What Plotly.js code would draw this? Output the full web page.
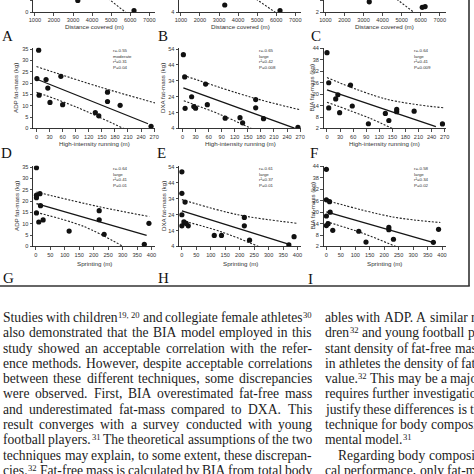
<!DOCTYPE html>
<html><head><meta charset="utf-8">
<script src="https://cdn.plot.ly/plotly-3.0.1.min.js"></script>
<style>html,body{margin:0;padding:0;background:#fff;overflow:hidden}#chart{width:474px;height:474px}</style>
</head><body><div id="chart"></div>
<script>
// ---------- data ----------
// top row (partially visible): distance covered
const distAdpX = [3250, 6200];
const distAdpY = [5.2, 0.7];
const distAdpLowX = [4850, 5760];
const distAdpLowY = [6.0, 0.0];
const distDxaX = [3300, 6200];
const distDxaY = [8.6, 5.0];
const distDxaLowX = [4950, 5950];
const distDxaLowY = [12.3, 4.0];
const distBiaX = [3300, 6080, 6230];
const distBiaY = [7.5, 4.6, 5.0];
const distBiaLowX = [4750, 5640];
const distBiaLowY = [8.8, 2.0];

// high-intensity running
const hirAdpX = [5, 1, 6, 22, 26, 31, 56, 60, 135, 143, 163, 163, 192, 263];
const hirAdpY = [34.5, 22, 14.7, 21.6, 17.8, 11.5, 23, 10.5, 7, 5.6, 16, 11.9, 10.2, 1];
const hirAdpFitX = [1, 256];
const hirAdpFitY = [21.7, 2.1];
const hirAdpUpX = [0, 145, 272];
const hirAdpUpY = [27.3, 18.3, 11.3];
const hirAdpLoX = [0, 92, 200];
const hirAdpLoY = [16.0, 9.4, 0];

const hirDxaX = [2, 5, 6, 21, 26, 30, 53, 57, 98, 132, 138, 168, 168, 186, 265];
const hirDxaY = [50.5, 36.5, 16.7, 24, 17.8, 16.8, 32, 19, 10.5, 10.8, 7.6, 22.2, 17, 10.2, 4.8];
const hirDxaFitX = [2, 257];
const hirDxaFitY = [29.6, 4.3];
const hirDxaUpX = [2, 156, 268];
const hirDxaUpY = [37.5, 23.8, 15.9];
const hirDxaLoX = [3, 85, 158];
const hirDxaLoY = [21.5, 13, 4];

const hirBiaX = [0, 4, 4, 20, 25, 29, 54, 58, 95, 134, 142, 160, 160, 200, 265];
const hirBiaY = [41.8, 26, 12.8, 17.5, 19.7, 10.3, 24.8, 13.8, 4.5, 9.9, 6.2, 12, 10.8, 11.1, 4.4];
const hirBiaFitX = [0, 250];
const hirBiaFitY = [22.3, 3];
const hirBiaUpX = [0, 135, 270];
const hirBiaUpY = [28.7, 17.5, 12.8];
const hirBiaLoX = [0, 97, 150];
const hirBiaLoY = [15.8, 7.5, 2];

// sprinting
const sprAdpX = [2, 2, 2, 14, 16, 2, 10, 25, 115, 219, 219, 236, 375, 391];
const sprAdpY = [34.7, 22.6, 21.5, 23.3, 18, 14.8, 10.8, 11.7, 6.8, 15.8, 11.8, 5.4, 1, 10.2];
const sprAdpFitX = [2, 383];
const sprAdpFitY = [18.9, 4.9];
const sprAdpUpX = [2, 220, 392];
const sprAdpUpY = [24, 17.5, 13.2];
const sprAdpLoX = [2, 164, 302];
const sprAdpLoY = [15, 8.9, 0];

const sprDxaX = [0, 0, 0, 0, 7, 15, 22, 11, 112, 137, 216, 216, 234, 370, 388];
const sprDxaY = [51, 37.5, 24, 17, 19.5, 18.5, 17, 32, 11, 11, 22.3, 17, 8, 5, 10.2];
const sprDxaFitX = [0, 377];
const sprDxaFitY = [26.5, 5];
const sprDxaUpX = [0, 194, 400];
const sprDxaUpY = [33.5, 24, 18.6];
const sprDxaLoX = [0, 137, 265];
const sprDxaLoY = [20.3, 13.2, 4];

const sprBiaX = [0, 0, 0, 0, 6, 11, 13, 22, 112, 137, 216, 216, 232, 370, 388];
const sprBiaY = [42.5, 26.5, 18, 13, 14, 25.5, 20, 10.5, 10, 4.3, 12, 10.8, 5.8, 4.2, 11];
const sprBiaFitX = [0, 365];
const sprBiaFitY = [20.2, 4.3];
const sprBiaUpX = [0, 226, 394];
const sprBiaUpY = [26.2, 17.6, 14.6];
const sprBiaLoX = [0, 125, 240];
const sprBiaLoY = [15, 9, 2];

// statistics boxes
const statsA = ['r=-0.55', 'moderate', 'r²=0.31', 'P=0.04'];
const statsB = ['r=-0.65', 'large', 'r²=0.42', 'P=0.008'];
const statsC = ['r=-0.64', 'large', 'r²=0.41', 'P=0.009'];
const statsD = ['r=-0.64', 'large', 'r²=0.41', 'P=0.01'];
const statsE = ['r=-0.61', 'large', 'r²=0.37', 'P=0.01'];
const statsF = ['r=-0.58', 'large', 'r²=0.34', 'P=0.02'];

const panelLetters = ['A', 'B', 'C', 'D', 'E', 'F', 'G', 'H', 'I'];
const yTitles = ['ADP fat-mass (kg)', 'DXA fat-mass (kg)', 'BIA fat-mass (kg)'];
const xTitles = ['Distance covered (m)', 'High-intensity running (m)', 'Sprinting (m)'];

const leftLines = [
  'Studies with children^19, 20^ and collegiate female athletes^30^',
  'also demonstrated that the BIA model employed in this',
  'study showed an acceptable correlation with the refer-',
  'ence methods. However, despite acceptable correlations',
  'between these different techniques, some discrepancies',
  'were observed. First, BIA overestimated fat-free mass',
  'and underestimated fat-mass compared to DXA. This',
  'result converges with a survey conducted with young',
  'football players.^31^ The theoretical assumptions of the two',
  'techniques may explain, to some extent, these discrepan-',
  'cies.^32^ Fat-free mass is calculated by BIA from total body'
];
const rightLines = [
  'ables with ADP. A similar result',
  'dren^32^ and young football players',
  'stant density of fat-free mass',
  'in athletes the density of fat-free',
  'value.^32^ This may be a major',
  'requires further investigation.',
  'justify these differences is the',
  'technique for body composition',
  'mental model.^31^',
  '    Regarding body composition',
  'cal performance, only fat-mass'
];

// ---------- geometry (pixels) ----------
const W = 474, H = 474;
const px = v => v / W;
const py = v => 1 - v / H;
const cols = [[33, 155], [179, 301], [323.5, 445.5]];
const rows = [[0, 12.3], [47.5, 128.5], [165.5, 246.5]];

const SANS = 'Liberation Sans, Arial, sans-serif';
const SERIF = 'Liberation Serif, Times New Roman, serif';

const traces = [];
const layout = {
  width: W, height: H,
  margin: {l: 0, r: 0, t: 0, b: 0},
  paper_bgcolor: '#fff', plot_bgcolor: 'rgba(0,0,0,0)',
  showlegend: false,
  annotations: [], shapes: []
};

function axisStyle(extra) {
  return Object.assign({
    showline: true, linecolor: '#1e1e1e', linewidth: 0.9,
    ticks: 'outside', ticklen: 2.5, tickwidth: 0.8, tickcolor: '#1e1e1e',
    showgrid: false, zeroline: false, tickangle: 0, fixedrange: true,
    tickfont: {family: SANS, size: 5.6, color: '#333'}
  }, extra);
}

const xSpecs = [
  {range: [900, 7300], tick0: 1000, dtick: 1000},
  {range: [-8, 272], tick0: 0, dtick: 30},
  {range: [-10, 412], tick0: 0, dtick: 50}
];
const ySpecs = [
  [{range: [0, 5.42], tick0: 0, dtick: 5}, {range: [4, 11.75], tick0: 4, dtick: 10}, {range: [2, 8.45], tick0: 2, dtick: 6}],
  [{range: [0, 35.7], tick0: 0, dtick: 5}, {range: [4, 55], tick0: 4, dtick: 10}, {range: [2, 44.5], tick0: 2, dtick: 6}],
  [{range: [0, 35.7], tick0: 0, dtick: 5}, {range: [4, 55], tick0: 4, dtick: 10}, {range: [2, 44.5], tick0: 2, dtick: 6}]
];

const panelData = [
  [ {x: distAdpX, y: distAdpY, lo: [distAdpLowX, distAdpLowY]},
    {x: distDxaX, y: distDxaY, lo: [distDxaLowX, distDxaLowY]},
    {x: distBiaX, y: distBiaY, lo: [distBiaLowX, distBiaLowY]} ],
  [ {x: hirAdpX, y: hirAdpY, fit: [hirAdpFitX, hirAdpFitY], up: [hirAdpUpX, hirAdpUpY], lo: [hirAdpLoX, hirAdpLoY], stats: statsA},
    {x: hirDxaX, y: hirDxaY, fit: [hirDxaFitX, hirDxaFitY], up: [hirDxaUpX, hirDxaUpY], lo: [hirDxaLoX, hirDxaLoY], stats: statsB},
    {x: hirBiaX, y: hirBiaY, fit: [hirBiaFitX, hirBiaFitY], up: [hirBiaUpX, hirBiaUpY], lo: [hirBiaLoX, hirBiaLoY], stats: statsC} ],
  [ {x: sprAdpX, y: sprAdpY, fit: [sprAdpFitX, sprAdpFitY], up: [sprAdpUpX, sprAdpUpY], lo: [sprAdpLoX, sprAdpLoY], stats: statsD},
    {x: sprDxaX, y: sprDxaY, fit: [sprDxaFitX, sprDxaFitY], up: [sprDxaUpX, sprDxaUpY], lo: [sprDxaLoX, sprDxaLoY], stats: statsE},
    {x: sprBiaX, y: sprBiaY, fit: [sprBiaFitX, sprBiaFitY], up: [sprBiaUpX, sprBiaUpY], lo: [sprBiaLoX, sprBiaLoY], stats: statsF} ]
];

const dotLine = {color: '#222', width: 1.1, dash: '2px,1.6px', shape: 'spline'};

for (let r = 0; r < 3; r++) {
  for (let c = 0; c < 3; c++) {
    const k = r * 3 + c + 1;
    const xid = k === 1 ? 'x' : 'x' + k;
    const yid = k === 1 ? 'y' : 'y' + k;
    const xa = k === 1 ? 'xaxis' : 'xaxis' + k;
    const ya = k === 1 ? 'yaxis' : 'yaxis' + k;
    const [x0, x1] = cols[c];
    const [t, b] = rows[r];
    layout[xa] = axisStyle(Object.assign({domain: [px(x0), px(x1)], anchor: yid}, xSpecs[r]));
    layout[ya] = axisStyle(Object.assign({domain: [py(b), Math.min(1, py(t))], anchor: xid}, ySpecs[r][c]));
    const d = panelData[r][c];
    if (d.up) traces.push({x: d.up[0], y: d.up[1], mode: 'lines', line: dotLine, xaxis: xid, yaxis: yid, hoverinfo: 'skip'});
    if (d.lo) traces.push({x: d.lo[0], y: d.lo[1], mode: 'lines', line: dotLine, xaxis: xid, yaxis: yid, hoverinfo: 'skip'});
    if (d.fit) traces.push({x: d.fit[0], y: d.fit[1], mode: 'lines', line: {color: '#151515', width: 1.3}, xaxis: xid, yaxis: yid, hoverinfo: 'skip'});
    traces.push({x: d.x, y: d.y, mode: 'markers', marker: {size: 5.2, color: '#111'}, xaxis: xid, yaxis: yid, cliponaxis: true});

    const titleY = [27, 143.5, 263.5][r];
    layout.annotations.push({text: xTitles[r], x: px((x0 + x1) / 2), y: py(titleY), xref: 'paper', yref: 'paper',
      showarrow: false, font: {family: SANS, size: 6.2, color: '#333'}, xanchor: 'center', yanchor: 'middle', borderpad: 0, borderwidth: 0});
    if (r > 0) {
      layout.annotations.push({text: yTitles[c], x: px([16, 163, 311.5][c]), y: py((t + b) / 2), xref: 'paper', yref: 'paper',
        showarrow: false, textangle: -90, font: {family: SANS, size: 6.2, color: '#333'}, xanchor: 'center', yanchor: 'middle', borderpad: 0, borderwidth: 0});
      layout.annotations.push({text: d.stats.join('<br>'), x: px([113, 259, 414][c]), y: py(t + 0.5), xref: 'paper', yref: 'paper',
        showarrow: false, align: 'left', font: {family: SANS, size: 4.4, color: '#333'}, xanchor: 'left', yanchor: 'top', borderpad: 0, borderwidth: 0});
    }
  }
}

// panel letters
const letterPos = [[8, 36.3], [162.7, 36.3], [315.5, 36.3], [6.7, 153], [161.7, 153], [314, 153], [8.7, 277.5], [163.8, 277.5], [310, 279]];
panelLetters.forEach((L, i) => {
  layout.annotations.push({text: L, x: px(letterPos[i][0]), y: py(letterPos[i][1]), xref: 'paper', yref: 'paper',
    showarrow: false, font: {family: SERIF, size: 15, color: '#111'}, xanchor: 'center', yanchor: 'middle', borderpad: 0, borderwidth: 0});
});

// figure frame
layout.shapes.push({type: 'line', xref: 'paper', yref: 'paper', x0: px(469), x1: px(469), y0: py(286), y1: 1, line: {color: '#333', width: 1.6}});
layout.shapes.push({type: 'line', xref: 'paper', yref: 'paper', x0: 0, x1: px(469.8), y0: py(286), y1: py(286), line: {color: '#333', width: 1.6}});

// ---------- body text ----------
const TXT = 13.6, SUP = 8.6, LINE0 = 316.3, LH = 15.3, COL_L = 3, COL_R = 312, RCOL = 325;
const cvs = document.createElement('canvas').getContext('2d');
function mw(s, size) { cvs.font = size + 'px "Liberation Serif"'; return cvs.measureText(s).width; }
function parseTok(tok) {
  const m = tok.match(/^(.*?)\^(.*?)\^(.*)$/);
  return m ? {base: m[1], sup: m[2], after: m[3]} : {base: tok, sup: '', after: ''};
}
function tokW(p) { return mw(p.base, TXT) + (p.sup ? mw(p.sup, SUP) + 0.6 : 0) + mw(p.after, TXT); }
const txtFont = {family: SERIF, size: TXT, color: '#1c1c1c'};
const supFont = {family: SERIF, size: SUP, color: '#1c1c1c'};
function addWord(p, x, cy) {
  const bottom = cy + 8.6;
  layout.annotations.push({text: p.base, x: px(x), y: py(bottom), xref: 'paper', yref: 'paper',
    showarrow: false, font: txtFont, xanchor: 'left', yanchor: 'bottom', borderpad: 0, borderwidth: 0});
  if (p.sup) {
    const sx = x + mw(p.base, TXT) + 0.6;
    layout.annotations.push({text: p.sup, x: px(sx), y: py(bottom - 5.4), xref: 'paper', yref: 'paper',
      showarrow: false, font: supFont, xanchor: 'left', yanchor: 'bottom', borderpad: 0, borderwidth: 0});
  }
}
const splitRe = / (?=[^^]*(?:\^[^^]*\^[^^]*)*$)/;
leftLines.forEach((line, i) => {
  const toks = line.split(splitRe).map(parseTok);
  const ws = toks.map(tokW);
  const total = ws.reduce((a, b) => a + b, 0);
  const gap = (COL_R - COL_L - total) / (toks.length - 1);
  let x = COL_L;
  toks.forEach((p, j) => { addWord(p, x, LINE0 + i * LH); x += ws[j] + gap; });
});
const spaceW = mw(' ', TXT);
rightLines.forEach((line, i) => {
  const indent = line.startsWith('    ') ? 13 : 0;
  const toks = line.trim().split(splitRe).map(parseTok);
  let x = RCOL + indent;
  toks.forEach(p => { addWord(p, x, LINE0 + i * LH); x += tokW(p) + spaceW; });
});

Plotly.newPlot('chart', traces, layout, {displayModeBar: false, staticPlot: true});
</script>
</body></html>
